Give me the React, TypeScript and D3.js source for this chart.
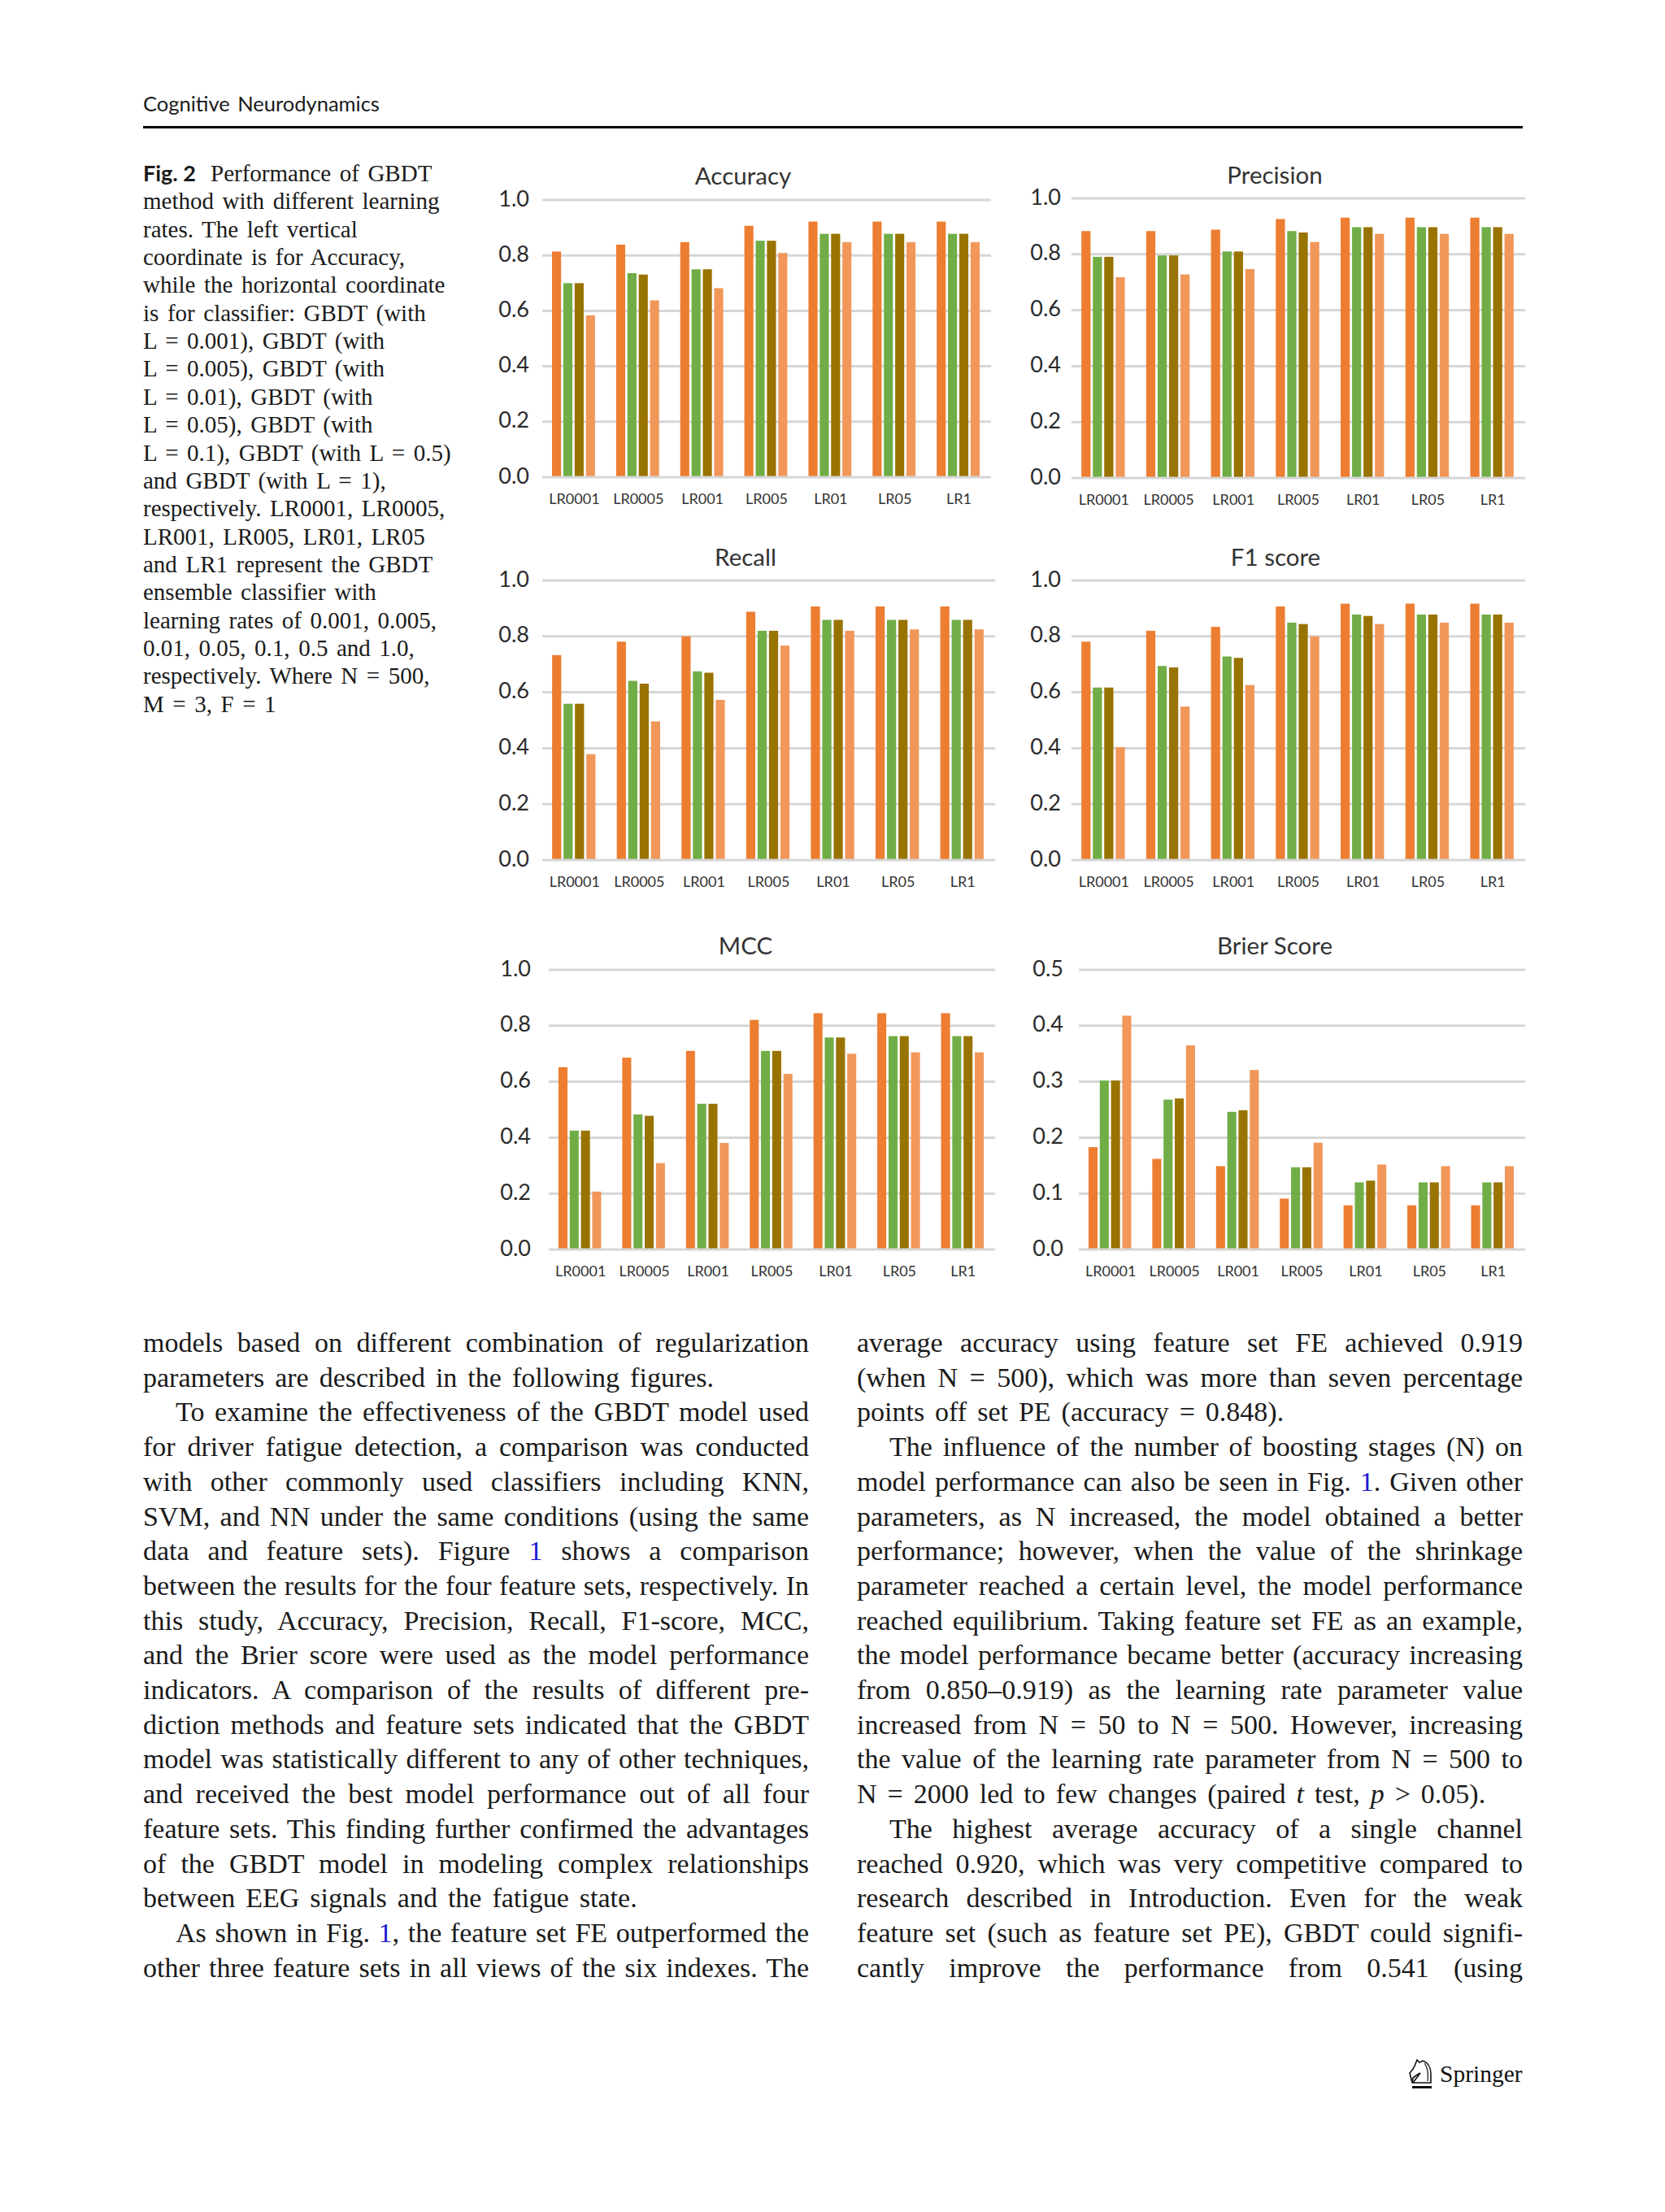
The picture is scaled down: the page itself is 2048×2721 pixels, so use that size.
import { useEffect, useRef } from 'react';
import * as d3 from 'd3';

const categories = ['LR0001', 'LR0005', 'LR001', 'LR005', 'LR01', 'LR05', 'LR1'];
const seriesNames = ['s1', 's2', 's3', 's4'];
const seriesColors = ['#ED7D31', '#70AD47', '#997300', '#F1975A'];
const unitTicks = [0, 0.2, 0.4, 0.6, 0.8, 1];
const brierTicks = [0, 0.1, 0.2, 0.3, 0.4, 0.5];

// one row per category, one column per bar colour
const accuracyValues = [
  [0.814, 0.7, 0.7, 0.584],
  [0.839, 0.736, 0.731, 0.638],
  [0.848, 0.75, 0.75, 0.682],
  [0.907, 0.853, 0.853, 0.809],
  [0.922, 0.878, 0.878, 0.848],
  [0.922, 0.878, 0.878, 0.848],
  [0.922, 0.878, 0.878, 0.848],
];
const precisionValues = [
  [0.883, 0.791, 0.791, 0.718],
  [0.883, 0.796, 0.796, 0.728],
  [0.888, 0.81, 0.81, 0.747],
  [0.926, 0.883, 0.878, 0.844],
  [0.931, 0.897, 0.897, 0.873],
  [0.931, 0.897, 0.897, 0.873],
  [0.931, 0.897, 0.897, 0.873],
];
const recallValues = [
  [0.733, 0.559, 0.559, 0.379],
  [0.781, 0.641, 0.631, 0.496],
  [0.8, 0.675, 0.67, 0.573],
  [0.888, 0.82, 0.82, 0.767],
  [0.907, 0.859, 0.859, 0.82],
  [0.907, 0.859, 0.859, 0.825],
  [0.907, 0.859, 0.859, 0.825],
];
const f1Values = [
  [0.781, 0.617, 0.617, 0.404],
  [0.82, 0.694, 0.689, 0.549],
  [0.834, 0.728, 0.723, 0.626],
  [0.907, 0.849, 0.844, 0.8],
  [0.917, 0.878, 0.873, 0.844],
  [0.917, 0.878, 0.878, 0.849],
  [0.917, 0.878, 0.878, 0.849],
];
const mccValues = [
  [0.652, 0.425, 0.425, 0.207],
  [0.686, 0.483, 0.478, 0.309],
  [0.71, 0.521, 0.521, 0.381],
  [0.821, 0.71, 0.71, 0.628],
  [0.845, 0.758, 0.758, 0.7],
  [0.845, 0.763, 0.763, 0.705],
  [0.845, 0.763, 0.763, 0.705],
];
const brierValues = [
  [0.183, 0.302, 0.302, 0.418],
  [0.162, 0.268, 0.27, 0.365],
  [0.149, 0.246, 0.249, 0.321],
  [0.091, 0.147, 0.147, 0.191],
  [0.079, 0.12, 0.123, 0.152],
  [0.079, 0.12, 0.12, 0.149],
  [0.079, 0.12, 0.12, 0.149],
];

const panels = [
  { title: 'Accuracy', values: accuracyValues, ticks: unitTicks, max: 1, x0: 667, x1: 1219, yTop: 246, yBase: 587, titleX: 914, titleY: 227, labelGap: 16 },
  { title: 'Precision', values: precisionValues, ticks: unitTicks, max: 1, x0: 1318, x1: 1876, yTop: 244, yBase: 588, titleX: 1568, titleY: 226, labelGap: 13 },
  { title: 'Recall', values: recallValues, ticks: unitTicks, max: 1, x0: 667, x1: 1224, yTop: 714, yBase: 1058, titleX: 917, titleY: 696, labelGap: 16 },
  { title: 'F1 score', values: f1Values, ticks: unitTicks, max: 1, x0: 1318, x1: 1876, yTop: 714, yBase: 1058, titleX: 1569, titleY: 696, labelGap: 13 },
  { title: 'MCC', values: mccValues, ticks: unitTicks, max: 1, x0: 675, x1: 1224, yTop: 1193, yBase: 1537, titleX: 917, titleY: 1174, labelGap: 22 },
  { title: 'Brier Score', values: brierValues, ticks: brierTicks, max: 0.5, x0: 1327, x1: 1876, yTop: 1193, yBase: 1537, titleX: 1568, titleY: 1174, labelGap: 19 },
];

const captionLines = [
  'method with different learning',
  'rates. The left vertical',
  'coordinate is for Accuracy,',
  'while the horizontal coordinate',
  'is for classifier: GBDT (with',
  'L = 0.001), GBDT (with',
  'L = 0.005), GBDT (with',
  'L = 0.01), GBDT (with',
  'L = 0.05), GBDT (with',
  'L = 0.1), GBDT (with L = 0.5)',
  'and GBDT (with L = 1),',
  'respectively. LR0001, LR0005,',
  'LR001, LR005, LR01, LR05',
  'and LR1 represent the GBDT',
  'ensemble classifier with',
  'learning rates of 0.001, 0.005,',
  '0.01, 0.05, 0.1, 0.5 and 1.0,',
  'respectively. Where N = 500,',
  'M = 3, F = 1',
];

// leading ">" = paragraph indent, trailing "$" = last line, not justified,
// {..} = blue link, *..* = italic
const leftColumn = [
  'models based on different combination of regularization',
  'parameters are described in the following figures.$',
  '>To examine the effectiveness of the GBDT model used',
  'for driver fatigue detection, a comparison was conducted',
  'with other commonly used classifiers including KNN,',
  'SVM, and NN under the same conditions (using the same',
  'data and feature sets). Figure {1} shows a comparison',
  'between the results for the four feature sets, respectively. In',
  'this study, Accuracy, Precision, Recall, F1-score, MCC,',
  'and the Brier score were used as the model performance',
  'indicators. A comparison of the results of different pre-',
  'diction methods and feature sets indicated that the GBDT',
  'model was statistically different to any of other techniques,',
  'and received the best model performance out of all four',
  'feature sets. This finding further confirmed the advantages',
  'of the GBDT model in modeling complex relationships',
  'between EEG signals and the fatigue state.$',
  '>As shown in Fig. {1}, the feature set FE outperformed the',
  'other three feature sets in all views of the six indexes. The',
];
const rightColumn = [
  'average accuracy using feature set FE achieved 0.919',
  '(when N = 500), which was more than seven percentage',
  'points off set PE (accuracy = 0.848).$',
  '>The influence of the number of boosting stages (N) on',
  'model performance can also be seen in Fig. {1}. Given other',
  'parameters, as N increased, the model obtained a better',
  'performance; however, when the value of the shrinkage',
  'parameter reached a certain level, the model performance',
  'reached equilibrium. Taking feature set FE as an example,',
  'the model performance became better (accuracy increasing',
  'from 0.850–0.919) as the learning rate parameter value',
  'increased from N = 50 to N = 500. However, increasing',
  'the value of the learning rate parameter from N = 500 to',
  'N = 2000 led to few changes (paired *t* test, *p* > 0.05).$',
  '>The highest average accuracy of a single channel',
  'reached 0.920, which was very competitive compared to',
  'research described in Introduction. Even for the weak',
  'feature set (such as feature set PE), GBDT could signifi-',
  'cantly improve the performance from 0.541 (using',
];

const SANS = 'Lato, "Open Sans", sans-serif';
const SERIF = '"Liberation Serif", serif';
const INK = '#1a1a1a';

type Sel = d3.Selection<SVGGElement, unknown, null, undefined>;

function drawPanel(root: Sel, p: (typeof panels)[number]) {
  const g = root.append('g').attr('class', 'panel');
  const x = d3.scaleBand<string>().domain(categories).range([p.x0, p.x1]);
  const inner = d3.scaleBand<string>().domain(seriesNames).range([0, x.bandwidth() * 0.67]).paddingInner(0.2);
  const y = d3.scaleLinear().domain([0, p.max]).range([p.yBase, p.yTop]);

  const yAxis = d3.axisLeft(y)
    .tickValues(p.ticks)
    .tickFormat(d3.format('.1f') as any)
    .tickSize(0)
    .tickPadding(p.labelGap);
  const yG = g.append('g').attr('transform', `translate(${p.x0},0)`).call(yAxis);
  yG.select('.domain').remove();
  yG.selectAll('text')
    .attr('dy', '0.26em')
    .style('font-family', SANS)
    .style('font-size', '27px')
    .style('fill', '#2b2b2b');

  const drawGrid = (ticks: number[]) => {
    g.append('g').selectAll('line')
      .data(ticks)
      .join('line')
      .attr('x1', p.x0)
      .attr('x2', p.x1)
      .attr('y1', d => y(d))
      .attr('y2', d => y(d))
      .attr('stroke', '#d6d6d6')
      .attr('stroke-width', 3);
  };
  drawGrid(p.ticks.slice(1));

  const groups = g.append('g').selectAll('g')
    .data(p.values)
    .join('g')
    .attr('transform', (_, i) => `translate(${x(categories[i])! + x.bandwidth() * 0.165 - 1},0)`);
  groups.selectAll('rect')
    .data(d => d)
    .join('rect')
    .attr('x', (_, i) => inner(seriesNames[i])!)
    .attr('width', inner.bandwidth())
    .attr('y', d => y(d))
    .attr('height', d => y(0) - y(d))
    .attr('fill', (_, i) => seriesColors[i]);

  drawGrid([0]);

  const xAxis = d3.axisBottom(x).tickSize(0).tickPadding(20);
  const xG = g.append('g').attr('transform', `translate(0,${p.yBase})`).call(xAxis);
  xG.select('.domain').remove();
  xG.selectAll('text')
    .style('font-family', SANS)
    .style('font-size', '18px')
    .style('fill', '#333');

  g.append('text')
    .attr('x', p.titleX)
    .attr('y', p.titleY)
    .attr('text-anchor', 'middle')
    .style('font-family', SANS)
    .style('font-size', '29.5px')
    .style('fill', '#333')
    .text(p.title);
}

function appendRuns(text: d3.Selection<SVGTextElement, unknown, null, undefined>, line: string) {
  line.split(/(\{[^}]*\}|\*[^*]*\*)/).filter(Boolean).forEach(run => {
    if (run[0] === '{') text.append('tspan').attr('fill', '#1a1ad0').text(run.slice(1, -1));
    else if (run[0] === '*') text.append('tspan').style('font-style', 'italic').text(run.slice(1, -1));
    else text.append('tspan').text(run);
  });
}

function drawColumn(root: Sel, lines: string[], left: number, right: number, firstBaseline: number) {
  const lineHeight = 42.7;
  lines.forEach((raw, i) => {
    const indent = raw.startsWith('>');
    const last = raw.endsWith('$');
    const line = raw.replace(/^>/, '').replace(/\$$/, '');
    const startX = left + (indent ? 40 : 0);
    const text = root.append('text')
      .attr('x', startX)
      .attr('y', firstBaseline + i * lineHeight)
      .attr('fill', INK)
      .style('font-family', SERIF)
      .style('font-size', '34px')
      .style('white-space', 'pre');
    appendRuns(text, line);
    if (last) {
      text.style('word-spacing', '4.5px');
      return;
    }
    // stretch the word gaps so the line fills the column
    const spaces = line.split(' ').length - 1;
    const natural = text.node()!.getComputedTextLength();
    text.style('word-spacing', `${(right - startX - natural) / spaces}px`);
  });
}

function drawCaption(root: Sel) {
  const captionX = 176;
  const first = root.append('text').attr('x', captionX).attr('y', 223).attr('fill', INK)
    .style('font-size', '29px').style('font-family', SERIF).style('word-spacing', '3.3px');
  first.append('tspan').style('font-family', SANS).style('font-weight', 700).style('font-size', '27px').style('word-spacing', '0').text('Fig. 2');
  first.append('tspan').attr('x', 259).text('Performance of GBDT');
  root.append('g').selectAll('text')
    .data(captionLines)
    .join('text')
    .attr('x', captionX)
    .attr('y', (_, i) => 223 + (i + 1) * 34.35)
    .attr('fill', INK)
    .style('font-family', SERIF)
    .style('font-size', '29px')
    .style('word-spacing', '3.3px')
    .text(d => d);
}

function drawPageFurniture(root: Sel) {
  root.append('text').attr('x', 176).attr('y', 137).attr('fill', INK)
    .style('font-family', SANS).style('font-size', '25.5px').style('word-spacing', '3px').text('Cognitive Neurodynamics');
  root.append('line').attr('x1', 176).attr('x2', 1873).attr('y1', 156.5).attr('y2', 156.5)
    .attr('stroke', '#000').attr('stroke-width', 3);

  // Springer knight, rough outline
  const logo = root.append('g').attr('transform', 'translate(1732,2533)');
  logo.append('path')
    .attr('d', 'M5 29 L2 17 C5 14 8 9 9 6 L11 1 L14 4 L18 2 C24 4 28 10 28 18 C28 23 28 26 28 29 L6 29 L15 17 L10 20 L6 23 Z')
    .attr('fill', 'none')
    .attr('stroke', '#111')
    .attr('stroke-width', 1.6);
  logo.append('path').attr('d', 'M20 5 C24 10 25 18 24 27').attr('fill', 'none').attr('stroke', '#111').attr('stroke-width', 1.2);
  logo.append('rect').attr('x', 5).attr('y', 33).attr('width', 24).attr('height', 3).attr('fill', '#111');
  root.append('text').attr('x', 1771).attr('y', 2561).attr('fill', '#111')
    .style('font-family', SERIF).style('font-size', '29.5px').text('Springer');
}

export default function App() {
  const svgRef = useRef<SVGSVGElement>(null);

  useEffect(() => {
    if (!svgRef.current) return;
    const svg = d3.select(svgRef.current);
    svg.selectAll('.content-group').remove();
    const g = svg.append('g').attr('class', 'content-group') as unknown as Sel;

    drawPageFurniture(g);
    drawCaption(g);
    panels.forEach(p => drawPanel(g, p));
    drawColumn(g, leftColumn, 176, 995, 1663);
    drawColumn(g, rightColumn, 1054, 1873, 1663);
  }, []);

  return (
    <svg
      ref={svgRef}
      width={2048}
      height={2721}
      style={{ position: 'absolute', left: 0, top: 0, display: 'block', background: '#fff' }}
    />
  );
}
